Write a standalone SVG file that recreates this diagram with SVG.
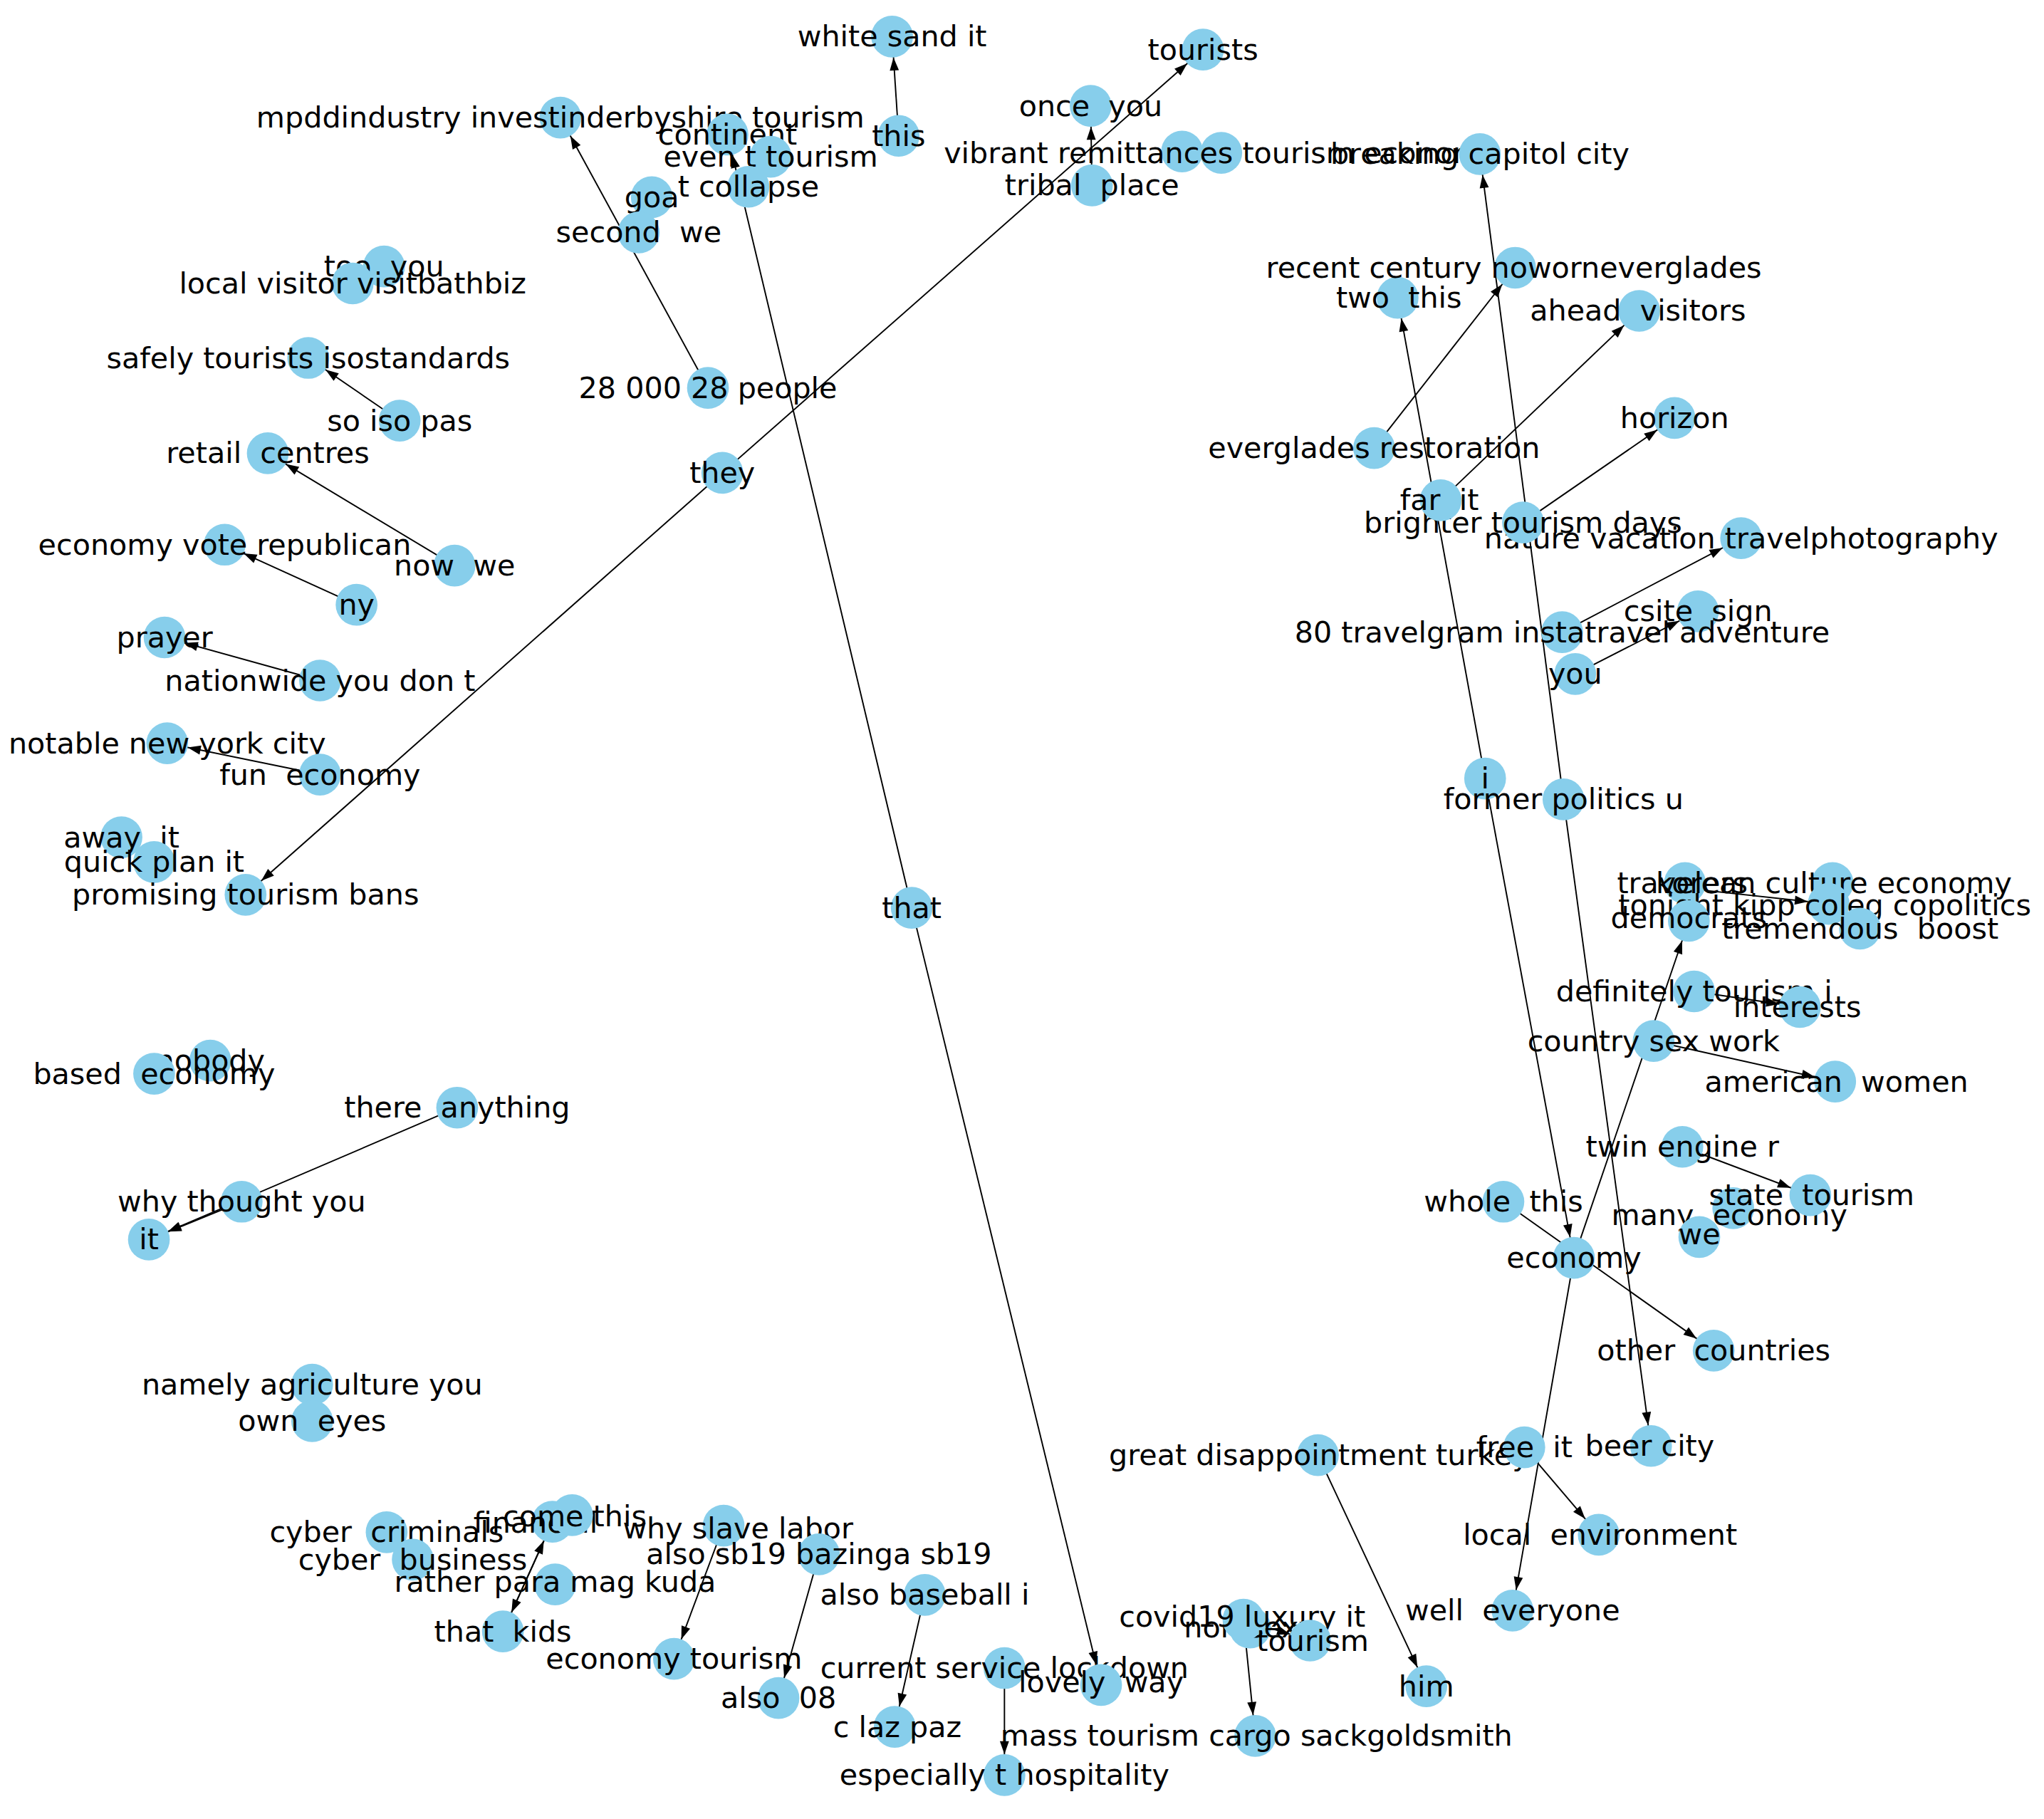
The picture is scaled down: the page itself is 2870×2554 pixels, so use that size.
<svg xmlns="http://www.w3.org/2000/svg" width="2870" height="2554" viewBox="0 0 2870 2554">
<style>
.n circle{fill:#87CEEB}
text{font-family:"DejaVu Sans","Liberation Sans",sans-serif;font-size:22.5px;fill:#000;text-anchor:middle;dominant-baseline:central;white-space:pre}
#edges line{stroke:#000;stroke-width:1.05;marker-end:url(#ah)}
</style>
<defs>
<marker id="ah" markerUnits="userSpaceOnUse" markerWidth="40" markerHeight="20" refX="26" refY="3.5" orient="auto" overflow="visible"><path d="M0,0 L10,3.5 L0,7 z" fill="#000"/></marker>
</defs>
<rect width="2870" height="2554" fill="#fff"/>
<g transform="scale(1.834)">
<g id="edges">
<line x1="688" y1="104" x2="683" y2="28"/>
<line x1="836" y1="142" x2="835" y2="81"/>
<line x1="553" y1="362" x2="921" y2="38"/>
<line x1="553" y1="362" x2="188" y2="685"/>
<line x1="698" y1="695" x2="557" y2="103"/>
<line x1="698" y1="695" x2="843" y2="1290"/>
<line x1="542" y1="297" x2="429" y2="90"/>
<line x1="306" y1="322" x2="236" y2="274"/>
<line x1="348" y1="433" x2="205" y2="347"/>
<line x1="273" y1="463" x2="172" y2="417"/>
<line x1="245" y1="521" x2="126" y2="488"/>
<line x1="245" y1="593" x2="128" y2="569"/>
<line x1="350" y1="848" x2="114" y2="949"/>
<line x1="185" y1="920" x2="114" y2="949"/>
<line x1="423" y1="1165" x2="385" y2="1249"/>
<line x1="385" y1="1249" x2="423" y2="1165"/>
<line x1="554" y1="1168" x2="516" y2="1270"/>
<line x1="627" y1="1190" x2="596" y2="1300"/>
<line x1="708" y1="1221" x2="685" y2="1322"/>
<line x1="769" y1="1277" x2="769" y2="1359"/>
<line x1="952" y1="1240" x2="1003" y2="1256"/>
<line x1="952" y1="1240" x2="961" y2="1329"/>
<line x1="1009" y1="1114" x2="1092" y2="1291"/>
<line x1="1167" y1="1108" x2="1224" y2="1175"/>
<line x1="1205" y1="963" x2="1158" y2="1233"/>
<line x1="1197" y1="612" x2="1133" y2="118"/>
<line x1="1197" y1="612" x2="1264" y2="1107"/>
<line x1="1137" y1="596" x2="1070" y2="228"/>
<line x1="1137" y1="596" x2="1205" y2="963"/>
<line x1="1052" y1="343" x2="1160" y2="205"/>
<line x1="1103" y1="383" x2="1255" y2="238"/>
<line x1="1166" y1="400" x2="1282" y2="320"/>
<line x1="1196" y1="484" x2="1333" y2="412"/>
<line x1="1206" y1="516" x2="1300" y2="468"/>
<line x1="1205" y1="963" x2="1293" y2="705"/>
<line x1="1290" y1="680" x2="1400" y2="692"/>
<line x1="1297" y1="759" x2="1378" y2="771"/>
<line x1="1266" y1="797" x2="1405" y2="828"/>
<line x1="1288" y1="878" x2="1386" y2="915"/>
<line x1="1151" y1="920" x2="1312" y2="1034"/>
</g>
<g class="n" id="n1"><circle cx="683" cy="28" r="16"/><text x="683" y="28">white sand it</text></g>
<g class="n" id="n2"><circle cx="688" cy="104" r="16"/><text x="688" y="104">this</text></g>
<g class="n" id="n3"><circle cx="921" cy="38" r="16"/><text x="921" y="38">tourists</text></g>
<g class="n" id="n4"><circle cx="835" cy="81" r="16"/><text x="835" y="81">once  you</text></g>
<g class="n" id="n5"><circle cx="836" cy="142" r="16"/><text x="836" y="142">tribal  place</text></g>
<g class="n" id="n6"><circle cx="905" cy="116" r="16"/></g>
<g class="n" id="n7"><circle cx="935" cy="117" r="16"/><text x="935" y="117">vibrant remittances tourism economy</text></g>
<g class="n" id="n8"><circle cx="1133" cy="118" r="16"/><text x="1133" y="118">breaking capitol city</text></g>
<g class="n" id="n9"><circle cx="429" cy="90" r="16"/><text x="429" y="90">mpddindustry investinderbyshire tourism</text></g>
<g class="n" id="n10"><circle cx="557" cy="103" r="16"/><text x="557" y="103">continent</text></g>
<g class="n" id="n11"><circle cx="590" cy="120" r="16"/><text x="590" y="120">even t tourism</text></g>
<g class="n" id="n12"><circle cx="573" cy="143" r="16"/><text x="573" y="143">t collapse</text></g>
<g class="n" id="n13"><circle cx="499" cy="151" r="16"/><text x="499" y="151">goa</text></g>
<g class="n" id="n14"><circle cx="489" cy="178" r="16"/><text x="489" y="178">second  we</text></g>
<g class="n" id="n15"><circle cx="542" cy="297" r="16"/><text x="542" y="297">28 000 28 people</text></g>
<g class="n" id="n16"><circle cx="294" cy="204" r="16"/><text x="294" y="204">too  you</text></g>
<g class="n" id="n17"><circle cx="270" cy="217" r="16"/><text x="270" y="217">local visitor visitbathbiz</text></g>
<g class="n" id="n18"><circle cx="236" cy="274" r="16"/><text x="236" y="274">safely tourists isostandards</text></g>
<g class="n" id="n19"><circle cx="306" cy="322" r="16"/><text x="306" y="322">so iso pas</text></g>
<g class="n" id="n20"><circle cx="205" cy="347" r="16"/><text x="205" y="347">retail  centres</text></g>
<g class="n" id="n21"><circle cx="348" cy="433" r="16"/><text x="348" y="433">now  we</text></g>
<g class="n" id="n22"><circle cx="172" cy="417" r="16"/><text x="172" y="417">economy vote republican</text></g>
<g class="n" id="n23"><circle cx="273" cy="463" r="16"/><text x="273" y="463">ny</text></g>
<g class="n" id="n24"><circle cx="126" cy="488" r="16"/><text x="126" y="488">prayer</text></g>
<g class="n" id="n25"><circle cx="245" cy="521" r="16"/><text x="245" y="521">nationwide you don t</text></g>
<g class="n" id="n26"><circle cx="128" cy="569" r="16"/><text x="128" y="569">notable new york city</text></g>
<g class="n" id="n27"><circle cx="245" cy="593" r="16"/><text x="245" y="593">fun  economy</text></g>
<g class="n" id="n28"><circle cx="553" cy="362" r="16"/><text x="553" y="362">they</text></g>
<g class="n" id="n29"><circle cx="93" cy="641" r="16"/><text x="93" y="641">away  it</text></g>
<g class="n" id="n30"><circle cx="118" cy="660" r="16"/><text x="118" y="660">quick plan it</text></g>
<g class="n" id="n31"><circle cx="188" cy="685" r="16"/><text x="188" y="685">promising tourism bans</text></g>
<g class="n" id="n32"><circle cx="698" cy="695" r="16"/><text x="698" y="695">that</text></g>
<g class="n" id="n33"><circle cx="161" cy="812" r="16"/><text x="161" y="812">nobody</text></g>
<g class="n" id="n34"><circle cx="118" cy="822" r="16"/><text x="118" y="822">based  economy</text></g>
<g class="n" id="n35"><circle cx="350" cy="848" r="16"/><text x="350" y="848">there  anything</text></g>
<g class="n" id="n36"><circle cx="185" cy="920" r="16"/><text x="185" y="920">why thought you</text></g>
<g class="n" id="n37"><circle cx="114" cy="949" r="16"/><text x="114" y="949">it</text></g>
<g class="n" id="n38"><circle cx="239" cy="1060" r="16"/><text x="239" y="1060">namely agriculture you</text></g>
<g class="n" id="n39"><circle cx="239" cy="1088" r="16"/><text x="239" y="1088">own  eyes</text></g>
<g class="n" id="n40"><circle cx="296" cy="1173" r="16"/><text x="296" y="1173">cyber  criminals</text></g>
<g class="n" id="n41"><circle cx="316" cy="1194" r="16"/><text x="316" y="1194">cyber  business</text></g>
<g class="n" id="n42"><circle cx="423" cy="1165" r="16"/><text x="410" y="1166">financial</text></g>
<g class="n" id="n43"><circle cx="438" cy="1160" r="16"/><text x="440" y="1161">come this</text></g>
<g class="n" id="n44"><circle cx="554" cy="1168" r="16"/><text x="565" y="1170">why slave labor</text></g>
<g class="n" id="n45"><circle cx="425" cy="1213" r="16"/><text x="425" y="1211">rather para mag kuda</text></g>
<g class="n" id="n46"><circle cx="385" cy="1249" r="16"/><text x="385" y="1249">that  kids</text></g>
<g class="n" id="n47"><circle cx="627" cy="1190" r="16"/><text x="627" y="1190">also sb19 bazinga sb19</text></g>
<g class="n" id="n48"><circle cx="516" cy="1270" r="16"/><text x="516" y="1270">economy tourism</text></g>
<g class="n" id="n49"><circle cx="596" cy="1300" r="16"/><text x="596" y="1300">also  08</text></g>
<g class="n" id="n50"><circle cx="708" cy="1221" r="16"/><text x="708" y="1221">also baseball i</text></g>
<g class="n" id="n51"><circle cx="685" cy="1322" r="16"/><text x="687" y="1322">c laz paz</text></g>
<g class="n" id="n52"><circle cx="769" cy="1277" r="16"/><text x="769" y="1277">current service lockdown</text></g>
<g class="n" id="n53"><circle cx="769" cy="1359" r="16"/><text x="769" y="1359">especially t hospitality</text></g>
<g class="n" id="n54"><circle cx="843" cy="1290" r="16"/><text x="843" y="1288">lovely  way</text></g>
<g class="n" id="n56"><circle cx="957" cy="1246" r="16"/><text x="957" y="1246">non sexy</text></g>
<g class="n" id="n55"><circle cx="952" cy="1240" r="16"/><text x="951" y="1238">covid19 luxury it</text></g>
<g class="n" id="n57"><circle cx="1003" cy="1256" r="16"/><text x="1005" y="1256">tourism</text></g>
<g class="n" id="n58"><circle cx="961" cy="1329" r="16"/><text x="962" y="1329">mass tourism cargo sackgoldsmith</text></g>
<g class="n" id="n59"><circle cx="1009" cy="1114" r="16"/><text x="1010" y="1114">great disappointment turkey</text></g>
<g class="n" id="n60"><circle cx="1092" cy="1291" r="16"/><text x="1092" y="1291">him</text></g>
<g class="n" id="n61"><circle cx="1167" cy="1108" r="16"/><text x="1167" y="1108">free  it</text></g>
<g class="n" id="n62"><circle cx="1264" cy="1107" r="16"/><text x="1263" y="1107">beer city</text></g>
<g class="n" id="n63"><circle cx="1224" cy="1175" r="16"/><text x="1225" y="1175">local  environment</text></g>
<g class="n" id="n64"><circle cx="1158" cy="1233" r="16"/><text x="1158" y="1233">well  everyone</text></g>
<g class="n" id="n65"><circle cx="1205" cy="963" r="16"/><text x="1205" y="963">economy</text></g>
<g class="n" id="n66"><circle cx="1151" cy="920" r="16"/><text x="1151" y="920">whole  this</text></g>
<g class="n" id="n67"><circle cx="1312" cy="1034" r="16"/><text x="1312" y="1034">other  countries</text></g>
<g class="n" id="n68"><circle cx="1327" cy="925" r="16"/><text x="1324" y="930">many  economy</text></g>
<g class="n" id="n69"><circle cx="1301" cy="947" r="16"/><text x="1301" y="945">we</text></g>
<g class="n" id="n70"><circle cx="1386" cy="915" r="16"/><text x="1387" y="915">state  tourism</text></g>
<g class="n" id="n71"><circle cx="1288" cy="878" r="16"/><text x="1288" y="878">twin engine r</text></g>
<g class="n" id="n72"><circle cx="1266" cy="797" r="16"/><text x="1266" y="797">country sex work</text></g>
<g class="n" id="n73"><circle cx="1405" cy="828" r="16"/><text x="1406" y="828">american  women</text></g>
<g class="n" id="n74"><circle cx="1297" cy="759" r="16"/><text x="1297" y="759">definitely tourism i</text></g>
<g class="n" id="n75"><circle cx="1378" cy="771" r="16"/><text x="1376" y="771">interests</text></g>
<g class="n" id="n76"><circle cx="1290" cy="676" r="16"/><text x="1288" y="676">travelers</text></g>
<g class="n" id="n77"><circle cx="1403" cy="676" r="16"/><text x="1404" y="676">korean culture economy</text></g>
<g class="n" id="n78"><circle cx="1400" cy="692" r="16"/><text x="1397" y="693">tonight kipp coleg copolitics</text></g>
<g class="n" id="n79"><circle cx="1293" cy="705" r="16"/><text x="1293" y="703">democrats</text></g>
<g class="n" id="n80"><circle cx="1424" cy="711" r="16"/><text x="1424" y="711">tremendous  boost</text></g>
<g class="n" id="n81"><circle cx="1137" cy="596" r="16"/><text x="1137" y="596">i</text></g>
<g class="n" id="n82"><circle cx="1197" cy="612" r="16"/><text x="1197" y="612">former politics u</text></g>
<g class="n" id="n83"><circle cx="1206" cy="516" r="16"/><text x="1206" y="516">you</text></g>
<g class="n" id="n84"><circle cx="1300" cy="468" r="16"/><text x="1300" y="468">csite  sign</text></g>
<g class="n" id="n85"><circle cx="1196" cy="484" r="16"/><text x="1196" y="484">80 travelgram instatravel adventure</text></g>
<g class="n" id="n86"><circle cx="1333" cy="412" r="16"/><text x="1333" y="412">nature vacation travelphotography</text></g>
<g class="n" id="n87"><circle cx="1166" cy="400" r="16"/><text x="1166" y="400">brighter tourism days</text></g>
<g class="n" id="n88"><circle cx="1103" cy="383" r="16"/><text x="1102" y="383">far  it</text></g>
<g class="n" id="n89"><circle cx="1052" cy="343" r="16"/><text x="1052" y="343">everglades restoration</text></g>
<g class="n" id="n90"><circle cx="1282" cy="320" r="16"/><text x="1282" y="320">horizon</text></g>
<g class="n" id="n91"><circle cx="1255" cy="238" r="16"/><text x="1254" y="238">ahead  visitors</text></g>
<g class="n" id="n92"><circle cx="1070" cy="228" r="16"/><text x="1071" y="228">two  this</text></g>
<g class="n" id="n93"><circle cx="1160" cy="205" r="16"/><text x="1159" y="205">recent century noworneverglades</text></g>
</g>
</svg>
